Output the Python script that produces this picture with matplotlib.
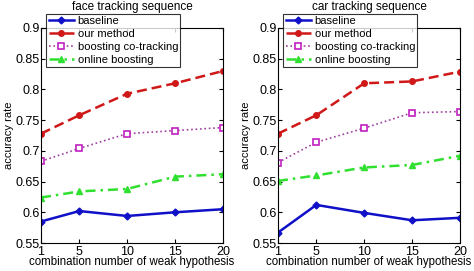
import numpy as np
import matplotlib.pyplot as plt

plt.rcParams['font.family'] = ['Liberation Sans', 'DejaVu Sans']

x = [1, 5, 10, 15, 20]

# face tracking sequence
face_baseline = [0.585, 0.602, 0.594, 0.600, 0.605]
face_ours = [0.728, 0.758, 0.793, 0.810, 0.830]
face_cotrack = [0.683, 0.704, 0.728, 0.733, 0.738]
face_online = [0.624, 0.634, 0.638, 0.658, 0.662]

# car tracking sequence
car_baseline = [0.567, 0.612, 0.599, 0.587, 0.591]
car_ours = [0.728, 0.758, 0.810, 0.813, 0.829]
car_cotrack = [0.681, 0.714, 0.737, 0.762, 0.764]
car_online = [0.651, 0.660, 0.673, 0.677, 0.692]

titles = ['face tracking sequence', 'car tracking sequence']
labels = ['baseline', 'our method', 'boosting co-tracking', 'online boosting']

fig = plt.figure(figsize=(4.74, 2.71), dpi=100)
axes = [fig.add_axes([41 / 474, 28 / 271, 182 / 474, 215 / 271]),
        fig.add_axes([278 / 474, 28 / 271, 182 / 474, 215 / 271])]

data = [(face_baseline, face_ours, face_cotrack, face_online),
        (car_baseline, car_ours, car_cotrack, car_online)]

for ax, title, (b, o, c, g) in zip(axes, titles, data):
    ax.plot(x, b, color='#1010c8', lw=1.8, marker='D', ms=3.5, label=labels[0])
    ax.plot(x, o, color='#d01818', lw=1.8, ls='--', dashes=(4, 2), marker='o', ms=4,
            label=labels[1])
    ax.plot(x, c, color='#a040a0', lw=1.2, ls=':', marker='s', ms=4,
            mfc='white', mec='#c020c0', mew=1.2, label=labels[2])
    ax.plot(x, g, color='#30e030', lw=1.8, ls='-.', dashes=(4, 2, 1, 2), marker='^', ms=4,
            label=labels[3])
    ax.set_xlim(1, 20)
    ax.set_ylim(0.55, 0.9)
    ax.set_xticks(x)
    ax.set_yticks(np.arange(0.55, 0.901, 0.05))
    ax.set_yticklabels(['0.55', '0.6', '0.65', '0.7', '0.75', '0.8', '0.85', '0.9'])
    ax.tick_params(labelsize=9, direction='in', length=3, pad=1, top=True, right=True)
    ax.tick_params(axis='x', pad=2)
    ax.set_title(title, fontsize=8.5, pad=13)
    ax.set_xlabel('combination number of weak hypothesis', fontsize=8.3, labelpad=-1)
    ax.set_ylabel('accuracy rate', fontsize=8, labelpad=1)
    leg = ax.legend(loc='upper left', bbox_to_anchor=(0.03, 1.065), fontsize=8,
                    frameon=True, fancybox=False, borderpad=0.2, labelspacing=0.25,
                    handlelength=2.3, handletextpad=0.3, borderaxespad=0)
    leg.get_frame().set_edgecolor('black')
    leg.get_frame().set_linewidth(0.8)

fig.savefig('out.png', dpi=100)
